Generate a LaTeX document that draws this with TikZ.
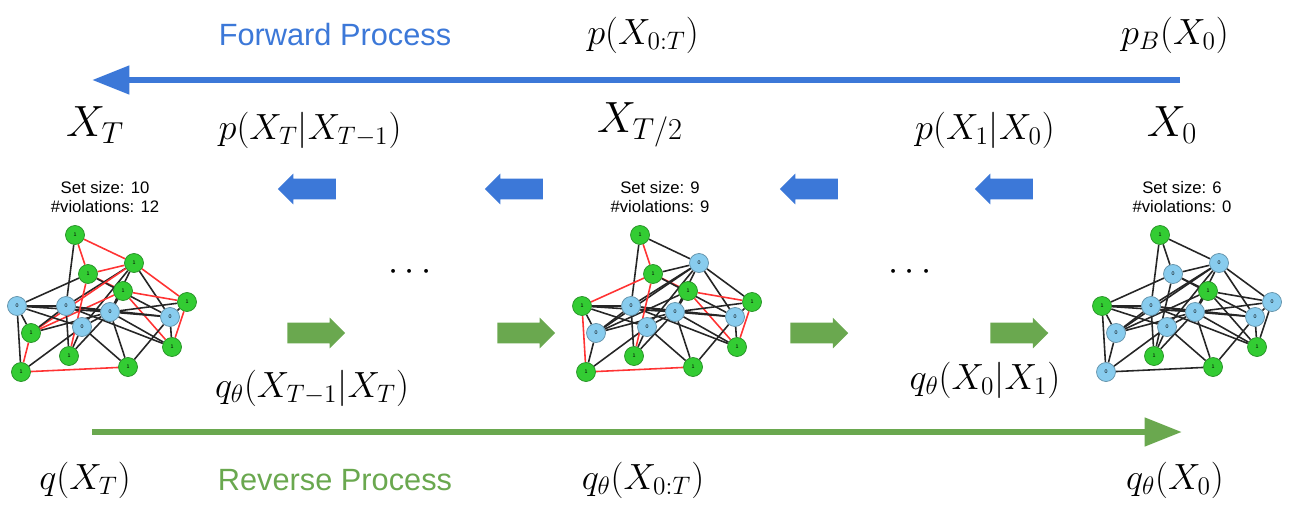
\documentclass[tikz,border=0pt]{standalone}
\usepackage{fontspec}
\newfontfamily\sans{Liberation Sans}
\usetikzlibrary{shapes.arrows,backgrounds,arrows.meta}
\definecolor{gblue}{HTML}{3C78D8}
\definecolor{ggreen}{HTML}{6AA84F}
\definecolor{ngreen}{HTML}{33CC33}
\definecolor{nblue}{HTML}{88CCEE}
\tikzset{x=0.02cm,y=-0.02cm,
 gn/.style={circle,draw=ngreen!70!black,fill=ngreen,minimum size=0.38cm,inner sep=0pt,font=\sans\fontsize{3}{3}\selectfont},
 bn/.style={circle,draw=nblue!70!black,fill=nblue,minimum size=0.38cm,inner sep=0pt,font=\sans\fontsize{3}{3}\selectfont},
 be/.style={black!85,line width=0.9pt},
 re/.style={red!80,line width=0.9pt},
 lab/.style={font=\fontsize{21.5}{24}\selectfont},
 big/.style={font=\fontsize{26}{29}\selectfont},
 small/.style={font=\sans\fontsize{9.5}{11}\selectfont,align=center},
 proc/.style={font=\sans\fontsize{17.5}{20}\selectfont},
 barl/.style={single arrow,shape border rotate=180,fill=gblue,minimum height=1.16cm,minimum width=0.62cm,inner xsep=0pt,inner ysep=0.16cm,single arrow head extend=0.08cm,single arrow tip angle=90},
 barr/.style={single arrow,fill=ggreen,minimum height=1.16cm,minimum width=0.62cm,inner xsep=0pt,inner ysep=0.16cm,single arrow head extend=0.08cm,single arrow tip angle=90},
}
\newcommand\drawgr[4]{%
 \foreach \i in {1,...,15}{\expandafter\xdef\csname gc\i\endcsname{0}}%
 \foreach \i in {#2}{\expandafter\xdef\csname gc\i\endcsname{1}}%
 \foreach \i/\x/\y in {1/640/235,2/699/263,3/653/274,4/688/291,5/582/306,6/631/306,7/675/312,8/752/302,9/735/317,10/596/333,11/647/327,12/634/356,13/737/347,14/586/372,15/693/367}{%
   \pgfmathtruncatemacro\cc{\csname gc\i\endcsname}%
   \ifnum\cc=1 \node[gn] (#4n\i) at (\x+#1,\y) {1};\else \node[bn] (#4n\i) at (\x+#1,\y) {0};\fi}%
 \begin{scope}[on background layer]
 \foreach \a/\b in {1/3,1/2,1/6,3/2,3/4,3/5,3/9,2/6,2/7,2/8,2/9,2/10,2/11,4/8,4/7,4/10,4/13,5/6,5/7,5/10,5/14,5/11,6/7,6/12,6/9,6/10,7/9,7/15,7/12,7/11,7/8,8/13,8/9,9/15,9/13,10/14,10/7,11/15,11/14,12/11,14/15,13/7,6/13,3/12}{%
   \pgfmathtruncatemacro\both{\csname gc\a\endcsname*\csname gc\b\endcsname*#3}%
   \ifnum\both=1 \draw[re] (#4n\a) -- (#4n\b);\else \draw[be] (#4n\a) -- (#4n\b);\fi}%
 \end{scope}}
\begin{document}
\begin{tikzpicture}
\useasboundingbox (0,0) rectangle (1290,513);
\coordinate (ta) at (1180,80); \coordinate (tb) at (92,80);
\draw[gblue,line width=3.6pt,-{Triangle[length=0.75cm,width=0.55cm]}] (ta) -- (tb);
\coordinate (ba) at (92,432); \coordinate (bb) at (1182,432);
\draw[ggreen,line width=3.6pt,-{Triangle[length=0.75cm,width=0.55cm]}] (ba) -- (bb);
\node[proc,text=gblue] (fp) at (335,35) {Forward Process};
\node[lab] (p0t) at (643,35) {$p(X_{0:T})$};
\node[lab] (pb) at (1175,35) {$p_B(X_0)$};
\node[big] (xt) at (95,125) {$X_T$};
\node[lab] (pxt) at (310,130) {$p(X_T|X_{T-1})$};
\node[big] (xt2) at (640,125) {$X_{T/2}$};
\node[lab] (px1) at (985,130) {$p(X_1|X_0)$};
\node[big] (x0) at (1172,125) {$X_0$};
\node[small] (s1) at (105,197) {Set size: 10\\ \#violations: 12};
\node[small] (s2) at (660,197) {Set size: 9\\ \#violations: 9};
\node[small] (s3) at (1182,197) {Set size: 6\\ \#violations: 0};
\foreach \x [count=\k] in {312,519,814,1009}{\node[barl] (bl\k) at (\x,189) {};}
\foreach \x [count=\k] in {311,521,814,1014}{\node[barr] (gr\k) at (\x,333) {};}
\node[lab] (d1) at (410,272) {$\cdots$};
\node[lab] (d2) at (910,272) {$\cdots$};
\drawgr{-565}{1,2,3,4,8,10,12,13,14,15}{1}{L}
\drawgr{0}{1,3,4,5,8,12,13,14,15}{1}{M}
\drawgr{520}{1,4,5,12,13,15}{0}{R}
\node[lab] (q1) at (312,388) {$q_\theta(X_{T-1}|X_T)$};
\node[lab] (q2) at (985,380) {$q_\theta(X_0|X_1)$};
\node[lab] (qx) at (85,480) {$q(X_T)$};
\node[proc,text=ggreen] (rp) at (335,480) {Reverse Process};
\node[lab] (q0t) at (643,480) {$q_\theta(X_{0:T})$};
\node[lab] (q0) at (1175,480) {$q_\theta(X_0)$};
\end{tikzpicture}
\end{document}
